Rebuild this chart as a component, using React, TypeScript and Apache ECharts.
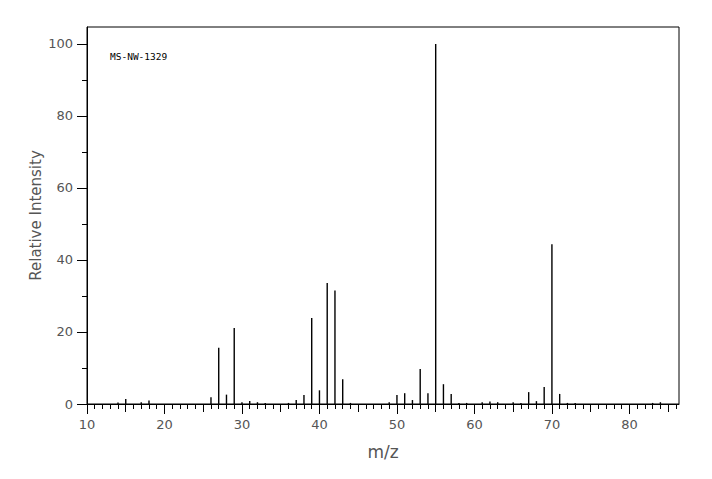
import React, { useEffect, useRef } from "react";
import * as echarts from "echarts";

const mzValues: number[] = [
  14, 15, 17, 18, 26, 27, 28, 29, 30, 31, 32, 33, 36, 37, 38, 39, 40, 41, 42, 43, 44,
  49, 50, 51, 52, 53, 54, 55, 56, 57, 58, 59, 61, 62, 63, 65, 66, 67, 68, 69, 70, 71,
  72, 73, 83, 84,
];
const intensities: number[] = [
  0.4, 1.4, 0.5, 1.0, 1.9, 15.6, 2.6, 21.1, 0.5, 0.8, 0.5, 0.3, 0.3, 1.1, 2.5, 23.9, 3.8,
  33.6, 31.5, 6.9, 0.3, 0.5, 2.5, 3.0, 1.1, 9.7, 3.0, 100, 5.5, 2.8, 0.3, 0.3, 0.5, 0.7,
  0.5, 0.5, 0.3, 3.3, 0.8, 4.7, 44.4, 2.8, 0.3, 0.3, 0.3, 0.5,
];

const xMajorTicks: number[] = [10, 20, 30, 40, 50, 60, 70, 80];
const xMidTicks: number[] = [15, 25, 35, 45, 55, 65, 75, 85];
const xMinorTicks: number[] = [
  11, 12, 13, 14, 16, 17, 18, 19, 21, 22, 23, 24, 26, 27, 28, 29, 31, 32, 33, 34, 36, 37,
  38, 39, 41, 42, 43, 44, 46, 47, 48, 49, 51, 52, 53, 54, 56, 57, 58, 59, 61, 62, 63, 64,
  66, 67, 68, 69, 71, 72, 73, 74, 76, 77, 78, 79, 81, 82, 83, 84, 86,
];
const yMajorTicks: number[] = [0, 20, 40, 60, 80, 100];
const yMinorTicks: number[] = [10, 30, 50, 70, 90];

const X_MIN = 10;
const X_MAX = 86.4;
const Y_MIN = 0;
const Y_MAX = 104.7;

const labelColor = "#555";
const font = "DejaVu Sans";

export default function App() {
  const ref = useRef<HTMLDivElement>(null);

  useEffect(() => {
    document.body.style.margin = "0";
    if (!ref.current) return;
    const chart = echarts.init(ref.current, undefined, { renderer: "svg" });
    const data = mzValues.map((m, i) => [m, intensities[i]]);

    const baseX = {
      type: "value",
      min: X_MIN,
      max: X_MAX,
      position: "bottom",
      splitLine: { show: false },
    };
    const baseY = {
      type: "value",
      min: Y_MIN,
      max: Y_MAX,
      position: "left",
      splitLine: { show: false },
    };

    chart.setOption({
      animation: false,
      backgroundColor: "#fff",
      grid: {
        left: 87,
        right: 33,
        top: 27,
        bottom: 75,
        show: true,
        borderColor: "#000",
        borderWidth: 1,
        backgroundColor: "transparent",
      },
      graphic: [
        {
          type: "text",
          left: 110,
          top: 51,
          style: {
            text: "MS-NW-1329",
            fontFamily: "DejaVu Sans Mono",
            fontSize: 9.5,
            fill: "#000",
          },
        },
      ],
      xAxis: [
        {
          ...baseX,
          name: "m/z",
          nameLocation: "middle",
          nameGap: 39,
          nameMoveOverlap: false,
          nameTextStyle: { fontFamily: font, fontSize: 17, color: labelColor },
          axisLine: { show: true, lineStyle: { color: "#000", width: 1 } },
          axisTick: { show: true, length: 10, customValues: xMajorTicks, lineStyle: { color: "#000" } },
          axisLabel: {
            customValues: xMajorTicks,
            margin: 14,
            fontFamily: font,
            fontSize: 13,
            color: labelColor,
          },
        },
        {
          ...baseX,
          axisLine: { show: false },
          axisTick: { show: true, length: 8, customValues: xMidTicks, lineStyle: { color: "#000" } },
          axisLabel: { show: false },
        },
        {
          ...baseX,
          axisLine: { show: false },
          axisTick: { show: true, length: 5, customValues: xMinorTicks, lineStyle: { color: "#000" } },
          axisLabel: { show: false },
        },
      ],
      yAxis: [
        {
          ...baseY,
          name: "Relative Intensity",
          nameLocation: "middle",
          nameGap: 44,
          nameMoveOverlap: false,
          nameTextStyle: { fontFamily: font, fontSize: 15, color: labelColor },
          axisLine: { show: true, lineStyle: { color: "#000", width: 1 } },
          axisTick: { show: true, length: 10, customValues: yMajorTicks, lineStyle: { color: "#000" } },
          axisLabel: {
            customValues: yMajorTicks,
            margin: 14,
            fontFamily: font,
            fontSize: 13,
            color: labelColor,
          },
        },
        {
          ...baseY,
          axisLine: { show: false },
          axisTick: { show: true, length: 5, customValues: yMinorTicks, lineStyle: { color: "#000" } },
          axisLabel: { show: false },
        },
      ],
      series: [
        {
          type: "bar",
          xAxisIndex: 0,
          yAxisIndex: 0,
          data,
          barWidth: 1.4,
          itemStyle: { color: "#000" },
          silent: true,
        },
      ],
    });

    return () => chart.dispose();
  }, []);

  return <div ref={ref} style={{ width: 712, height: 479 }} />;
}
